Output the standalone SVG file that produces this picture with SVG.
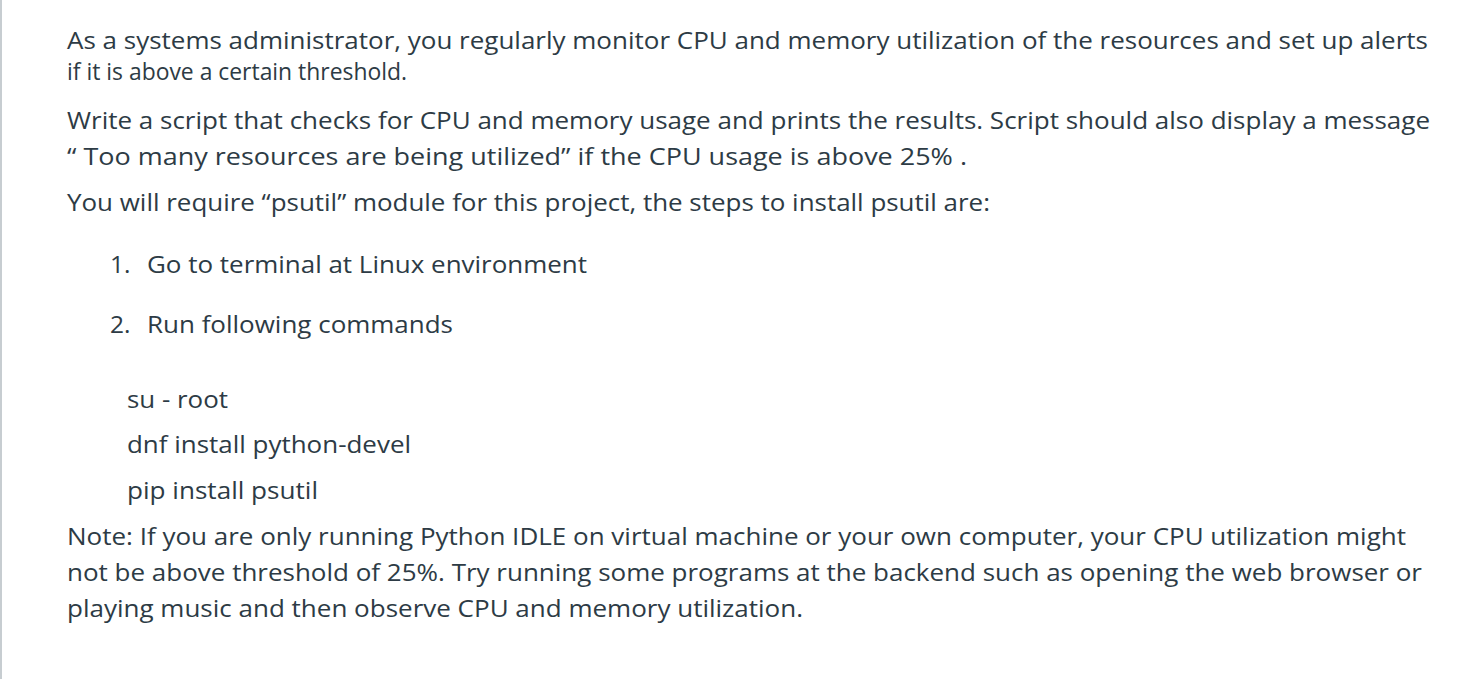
<svg xmlns="http://www.w3.org/2000/svg" width="1457" height="679" viewBox="0 0 1457 679">
<style>
text{font-family:"Open Sans","Noto Sans",sans-serif;font-size:24.5px;fill:#2D3B45}
</style>
<rect width="1457" height="679" fill="#fff"/>
<rect x="0" y="0" width="2" height="679" fill="#c7cdd1"/>
<g id="body">
<text x="67" y="49" textLength="1361" lengthAdjust="spacingAndGlyphs">As a systems administrator, you regularly monitor CPU and memory utilization of the resources and set up alerts</text>
<text x="67" y="80" textLength="340" lengthAdjust="spacingAndGlyphs">if it is above a certain threshold.</text>
<text x="67" y="129" textLength="1363" lengthAdjust="spacingAndGlyphs">Write a script that checks for CPU and memory usage and prints the results. Script should also display a message</text>
<text x="67" y="165" textLength="900" lengthAdjust="spacingAndGlyphs">“ Too many resources are being utilized” if the CPU usage is above 25% .</text>
<text x="67" y="211" textLength="923" lengthAdjust="spacingAndGlyphs">You will require “psutil” module for this project, the steps to install psutil are:</text>
<text x="110" y="273">1.</text>
<text x="147" y="273" textLength="440" lengthAdjust="spacingAndGlyphs">Go to terminal at Linux environment</text>
<text x="110" y="333">2.</text>
<text x="147" y="333" textLength="306" lengthAdjust="spacingAndGlyphs">Run following commands</text>
<text x="127" y="408" textLength="101" lengthAdjust="spacingAndGlyphs">su - root</text>
<text x="127" y="453" textLength="284" lengthAdjust="spacingAndGlyphs">dnf install python-devel</text>
<text x="127" y="499" textLength="191" lengthAdjust="spacingAndGlyphs">pip install psutil</text>
<text x="67" y="545" textLength="1339" lengthAdjust="spacingAndGlyphs">Note: If you are only running Python IDLE on virtual machine or your own computer, your CPU utilization might</text>
<text x="67" y="581" textLength="1355" lengthAdjust="spacingAndGlyphs">not be above threshold of 25%. Try running some programs at the backend such as opening the web browser or</text>
<text x="67" y="617" textLength="736" lengthAdjust="spacingAndGlyphs">playing music and then observe CPU and memory utilization.</text>
</g>
</svg>
